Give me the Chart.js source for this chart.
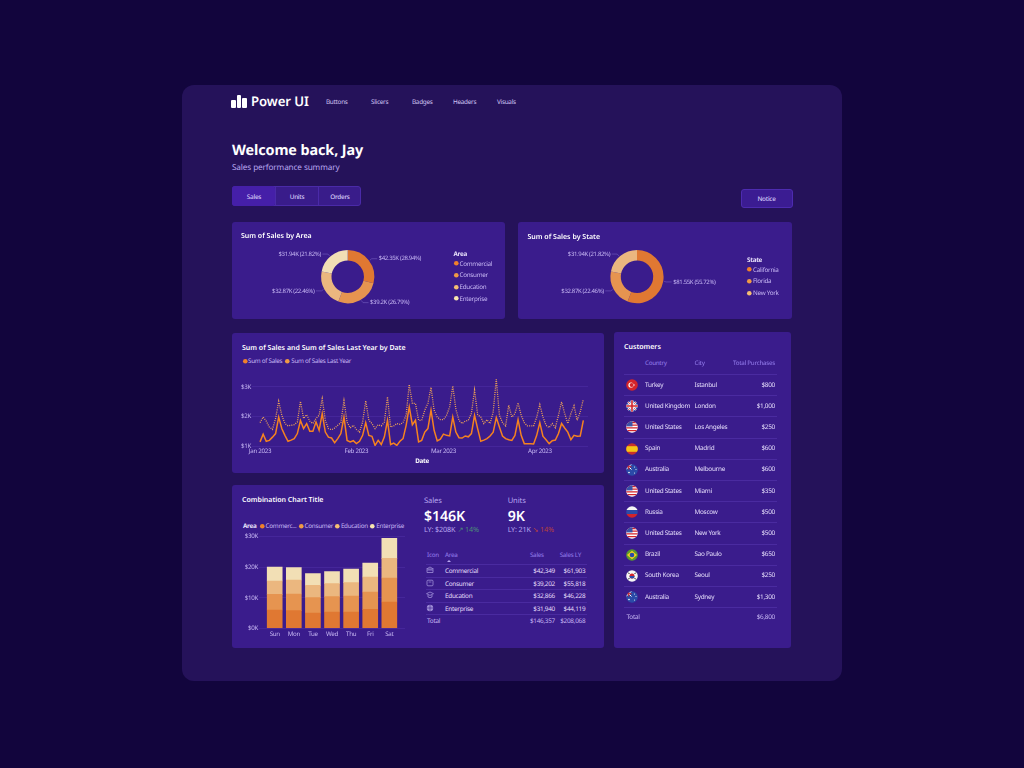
<!DOCTYPE html>
<html><head><meta charset="utf-8">
<script src="https://cdn.jsdelivr.net/npm/chart.js@4"></script>
<style>
html,body{margin:0;padding:0;width:1024px;height:768px;overflow:hidden;background:#12053d;font-family:"Noto Sans",sans-serif;text-rendering:geometricPrecision}
#root{position:absolute;left:0;top:0;width:1024px;height:768px;transform:translateZ(0)}
.box{position:absolute;box-sizing:border-box}
.t{position:absolute;white-space:nowrap;line-height:1;transform:translateY(-50%)}
.t.r{transform:translate(-100%,-50%)}
.t.c{transform:translate(-50%,-50%)}
canvas{position:absolute}
svg{position:absolute}
</style></head><body>
<div id="root"></div>
<script>
// ---------- data ----------
const areaNames=["Commercial","Consumer","Education","Enterprise"];
const areaValues=[42.35,39.2,32.87,31.94];
const areaLabels=["$42.35K (28.94%)","$39.2K (26.79%)","$32.87K (22.46%)","$31.94K (21.82%)"];
const stateNames=["California","Florida","New York"];
const stateValues=[81.55,32.87,31.94];
const stateLabels=["$81.55K (55.72%)","$32.87K (22.46%)","$31.94K (21.82%)"];
const salesLine=[1.14,1.40,1.16,1.19,1.30,1.42,1.98,1.59,1.36,1.16,1.20,1.25,1.42,1.86,1.59,1.76,1.50,1.50,1.81,1.53,2.10,1.47,1.30,1.27,1.11,1.25,1.42,1.98,1.19,1.14,1.18,1.08,1.16,1.36,1.79,1.36,1.33,1.02,1.19,1.05,1.31,1.87,1.05,1.10,1.02,1.16,1.25,1.70,2.32,1.72,1.87,1.14,1.19,1.47,1.59,2.21,1.53,1.17,1.23,1.40,1.36,1.34,1.98,1.47,1.28,1.27,1.34,1.31,1.42,2.04,1.59,1.16,1.20,1.25,1.34,1.47,1.96,1.64,1.34,1.25,1.21,1.19,1.36,1.89,1.36,1.08,1.08,1.08,1.07,1.36,1.79,1.33,1.21,1.08,1.18,1.20,1.42,1.76,1.61,1.47,1.21,1.36,1.33,1.34,1.87];
const salesLastYear=[1.79,1.98,1.84,1.64,1.56,1.93,2.51,2.04,1.76,1.68,1.70,1.72,1.81,2.51,1.93,2.06,1.84,1.76,1.93,2.04,2.60,1.87,1.59,1.55,1.61,1.70,1.79,2.53,1.81,1.61,1.70,1.56,1.47,1.81,2.53,1.87,1.76,1.59,1.72,1.68,1.81,2.66,1.64,1.68,1.76,1.73,1.79,2.04,3.08,2.44,2.44,1.87,1.87,2.21,2.44,2.98,2.21,1.98,1.89,1.89,2.04,2.32,3.03,2.24,1.87,1.76,1.84,1.87,2.10,2.89,2.06,1.98,1.76,1.89,1.76,2.15,3.26,2.04,1.79,1.68,2.38,1.98,2.10,2.46,2.04,1.79,1.68,1.68,1.68,1.98,2.40,1.98,1.70,1.62,1.76,1.62,2.04,2.49,2.10,1.76,2.10,2.36,1.87,2.15,2.58];
const monthTickDays=[0,31,59,90];
const monthTickLabels=["Jan 2023","Feb 2023","Mar 2023","Apr 2023"];
const weekDays=["Sun","Mon","Tue","Wed","Thu","Fri","Sat"];
const barCommercial=[6.0,5.78,5.02,5.35,5.35,6.22,8.62];
const barConsumer=[5.13,5.45,5.02,5.02,5.24,5.67,7.85];
const barEducation=[4.36,4.58,4.04,4.25,4.36,4.91,6.44];
const barEnterprise=[4.58,4.04,3.82,3.93,4.47,4.58,6.55];
const tableSales=["$42,349","$39,202","$32,866","$31,940"];
const tableSalesLY=["$61,903","$55,818","$46,228","$44,119"];
const custCountry=["Turkey","United Kingdom","United States","Spain","Australia","United States","Russia","United States","Brazil","South Korea","Australia"];
const custCity=["Istanbul","London","Los Angeles","Madrid","Melbourne","Miami","Moscow","New York","Sao Paulo","Seoul","Sydney"];
const custPurchases=["$800","$1,000","$250","$600","$600","$350","$500","$500","$650","$250","$1,300"];
const orange=["#E07832","#E69450","#EBB77F","#F2DFB5"];
const legendDots=["#F0802A","#F09A45","#F5BE72","#F8E6B0"];

// ---------- helpers ----------
const root=document.getElementById('root');
const C={bg:'#12053d',panel:'#25125a',card:'#3a1c8c',white:'#ffffff',row:'#e4dcfb',soft:'#c4b4f2',head:'#8a72e2',grid:'#4a2ba0'};
function box(x,y,w,h,bg,r,extra){const d=document.createElement('div');d.className='box';d.style.cssText=`left:${x}px;top:${y}px;width:${w}px;height:${h}px;background:${bg};border-radius:${r}px;${extra||''}`;root.appendChild(d);return d;}
function t(x,y,s,size,color,weight,align){const d=document.createElement('div');d.className='t'+(align?' '+align:'');d.textContent=s;const ls=size<7?-0.28:size<9?-0.12:-0.1;d.style.cssText=`left:${x}px;top:${y}px;font-size:${size}px;color:${color};font-weight:${weight||400};letter-spacing:${ls}px`;root.appendChild(d);return d;}
function canvas(x,y,w,h){const c=document.createElement('canvas');c.style.cssText=`left:0;top:0;width:${w}px;height:${h}px`;c.width=w;c.height=h;const wrap=document.createElement('div');wrap.style.cssText=`position:absolute;left:${x}px;top:${y}px;width:${w}px;height:${h}px`;wrap.appendChild(c);root.appendChild(wrap);return c;}
function dot(x,y,col,r){svg(x-r-1,y-r-1,2*r+2,2*r+2,`<circle cx="${r+1}" cy="${r+1}" r="${r}" fill="${col}"/>`);}
function line(x,y,w,col){box(x,y,w,1,col||C.grid,0);}
function svg(x,y,w,h,inner){const d=document.createElement('div');d.innerHTML=`<svg xmlns="http://www.w3.org/2000/svg" style="left:${x}px;top:${y}px" width="${w}" height="${h}" viewBox="0 0 ${w} ${h}">${inner}</svg>`;root.appendChild(d);}
Chart.register({id:'crispText',beforeDraw(ch){ch.ctx.textRendering='geometricPrecision';ch.ctx.letterSpacing='-0.3px';}});

// ---------- frame ----------
box(182,85,660,596,C.panel,12);
[[231.3,100,5,8],[237,95,4.4,13],[242,97.5,5,10.5]].forEach(b=>box(b[0],b[1],b[2],b[3],'#fff',1));
t(251,101.5,'Power UI',13.2,'#fff',600);
[["Buttons",326],["Slicers",371],["Badges",412],["Headers",453],["Visuals",497]].forEach(n=>t(n[1],101.5,n[0],6.4,'#cfc2f2',400));
t(232,150.5,'Welcome back, Jay',14.4,'#fff',700);
t(232,167.5,'Sales performance summary',8.2,'#b9a7f0',400);
box(232,186,129,20,'#391c8a',3,'border:1px solid #4a2aa8');
box(232,186,43,20,'#451fa8',3);
box(275,187,1,18,'#4a2aa8',0);box(318,187,1,18,'#4a2aa8',0);
t(254,197,'Sales',6.4,'#d5c9f7',500,'c');t(297,197,'Units',6.4,'#d5c9f7',500,'c');t(340,197,'Orders',6.4,'#d5c9f7',500,'c');
box(740.5,189,52,18.5,'#3b1c92',3,'border:1px solid #4d2bb0');
t(766.5,198.5,'Notice',6.4,'#d5c9f7',500,'c');
[[232,221.5,273,97.5],[517.5,221.5,274.5,97.5],[232,332.5,372,140.5],[614,332,177,316],[232,484.5,372,163.5]].forEach(c=>box(c[0],c[1],c[2],c[3],C.card,3));

// ---------- doughnuts ----------
const donutLabels={id:'donutLabels',afterDatasetsDraw(ch,a,o){
  const ctx=ch.ctx,meta=ch.getDatasetMeta(0);ctx.save();ctx.font='400 6px "Noto Sans"';ctx.letterSpacing='-0.35px';ctx.textBaseline='middle';
  meta.data.forEach((arc,i)=>{const m=(arc.startAngle+arc.endAngle)/2,R=arc.outerRadius;
    const px=arc.x+Math.cos(m)*R,py=arc.y+Math.sin(m)*R,side=Math.cos(m)>=0?1:-1,ty=arc.y+Math.sin(m)*R*1.1;
    ctx.strokeStyle='#6d55b8';ctx.lineWidth=.7;ctx.beginPath();ctx.moveTo(px+side*1,py);ctx.lineTo(px+side*3,ty);ctx.lineTo(px+side*8.5,ty);ctx.stroke();
    ctx.fillStyle='#c4b4f2';ctx.textAlign=side>0?'left':'right';ctx.fillText(o.labels[i],px+side*10,ty);});
  ctx.restore();}};
function donut(rect,cx,cy,r,labels,values,texts){
  const [x,y,w,h]=rect;
  return new Chart(canvas(x,y,w,h),{type:'doughnut',plugins:[donutLabels],data:{labels,datasets:[{data:values,backgroundColor:orange,borderColor:'#3a1c8c',borderWidth:0}]},
   options:{responsive:false,animation:false,cutout:'61%',layout:{padding:{left:cx-r-x,right:x+w-cx-r,top:cy-r-y,bottom:y+h-cy-r}},plugins:{legend:{display:false},tooltip:{enabled:false},donutLabels:{labels:texts}}}});
}
donut([232,222,273,97],347.7,276.7,26.6,areaNames,areaValues,areaLabels);
donut([518,222,274,97],637,276.7,26.6,stateNames,stateValues,stateLabels);
t(241,236.3,'Sum of Sales by Area',7,'#fff',600).style.letterSpacing='0';
t(527.5,236.5,'Sum of Sales by State',7,'#fff',600).style.letterSpacing='0';
t(453.5,254,'Area',6.3,'#e8e1fb',700);
[263.5,275,287,298.5].forEach((y,i)=>{dot(456,y,legendDots[i],2.3);t(459.5,y,areaNames[i],6.3,C.soft,400);});
t(747,259.5,'State',6.3,'#e8e1fb',700);
[269.5,281,293].forEach((y,i)=>{dot(749.5,y,legendDots[i],2.3);t(753,y,stateNames[i],6.3,C.soft,400);});

// ---------- line chart ----------
t(242,347.5,'Sum of Sales and Sum of Sales Last Year by Date',7,'#fff',600).style.letterSpacing='0';
dot(245,361,legendDots[0],2.3);t(248,361,'Sum of Sales',6.3,C.soft,400);
dot(287.5,361,legendDots[1],2.3);t(291.3,361,'Sum of Sales Last Year',6.3,C.soft,400);
const tickFont={family:'"Noto Sans"',size:6.2,weight:'400'};
new Chart(canvas(232,333,372,140),{type:'line',data:{datasets:[
 {label:'Sum of Sales',data:salesLine.map((v,i)=>({x:i,y:v})),borderColor:'#F58220',borderWidth:1.5,pointRadius:0,tension:0},
 {label:'Sum of Sales Last Year',data:salesLastYear.map((v,i)=>({x:i,y:v})),borderColor:'#F0A455',borderWidth:1.3,borderDash:[1,1.2],pointRadius:0,tension:0}]},
 options:{responsive:false,animation:false,layout:{padding:{left:0,right:16,top:45,bottom:0}},plugins:{legend:{display:false},tooltip:{enabled:false}},
 scales:{
  x:{type:'linear',min:-1.3,max:105.5,afterBuildTicks(s){s.ticks=monthTickDays.map(v=>({value:v}));},afterFit(s){s.height=27;},
     grid:{display:false,drawTicks:false},border:{display:false},title:{display:true,text:'Date',color:'#fff',font:{family:'"Noto Sans"',size:6.3,weight:'700'},padding:{top:0,bottom:8}},
     ticks:{autoSkip:false,maxRotation:0,padding:2,color:C.soft,font:tickFont,callback:v=>monthTickLabels[monthTickDays.indexOf(v)]}},
  y:{min:1,max:3.3,afterBuildTicks(s){s.ticks=[1,2,3].map(v=>({value:v}));},afterFit(s){s.width=24;},
     grid:{color:C.grid,lineWidth:.7,tickLength:4},border:{display:false},
     ticks:{padding:1,color:C.soft,font:tickFont,callback:v=>'$'+v+'K'}}}}});

// ---------- stacked bars ----------
t(242,499.5,'Combination Chart Title',7,'#fff',600).style.letterSpacing='0';
t(243,526,'Area',6.3,'#e8e1fb',700);
[[262,'Commerc...'],[301,'Consumer'],[337.3,'Education'],[372.7,'Enterprise']].forEach((l,i)=>{dot(l[0],526,legendDots[i],2.3);t(l[0]+3.6,526,l[1],6.3,C.soft,400);});
const barSeries=[barCommercial,barConsumer,barEducation,barEnterprise];
new Chart(canvas(232,485,180,163),{type:'bar',data:{datasets:barSeries.map((s,k)=>({label:areaNames[k],data:s.map((v,i)=>({x:i,y:v})),backgroundColor:orange[k],barThickness:15}))},
 options:{responsive:false,animation:false,layout:{padding:{left:0,right:7,top:51.7,bottom:0}},plugins:{legend:{display:false},tooltip:{enabled:false}},
 scales:{
  x:{type:'linear',offset:false,stacked:true,min:-0.665,max:6.82,afterBuildTicks(s){s.ticks=weekDays.map((_,i)=>({value:i}));},afterFit(s){s.height=19.7;},
     grid:{display:false,drawTicks:false},border:{display:false},ticks:{autoSkip:false,maxRotation:0,padding:2.5,color:C.soft,font:tickFont,callback:v=>weekDays[v]}},
  y:{stacked:true,min:0,max:30,afterBuildTicks(s){s.ticks=[0,10,20,30].map(v=>({value:v}));},afterFit(s){s.width=30;},
     grid:{color:C.grid,lineWidth:.7,tickLength:3},border:{display:false},ticks:{padding:1,color:C.soft,font:tickFont,callback:v=>'$'+v+'K'}}}}});

// ---------- KPIs + table ----------
t(424,501.5,'Sales',7.6,'#b9a7f0',400);t(507.7,501.5,'Units',7.6,'#b9a7f0',400);
t(424,517,'$146K',14.2,'#fff',600);t(507.7,517,'9K',14.2,'#fff',600);
t(424,531,'LY: $208K',7.2,'#b9a7f0',400);t(457.5,531,'↗',7.2,'#4c8f78',400);t(465,531,'14%',7.2,'#4c8f78',400);
t(507.7,531,'LY: 21K',7.2,'#b9a7f0',400);t(532.5,531,'↘',7.2,'#b8403c',400);t(540,531,'14%',7.2,'#b8403c',400);
t(427,555,'Icon',6.2,C.head,500);t(445,555,'Area',6.2,C.head,500);t(530,555,'Sales',6.2,C.head,500);t(559.7,555,'Sales LY',6.2,C.head,500);
svg(445,559.5,8,3,'<path d="M4 0 L6 2 L2 2 Z" fill="#b9a7f0"/>');
[564,576.5,589,601.5,614].forEach(y=>line(426,y,161));
const icons=[
 '<path d="M0.5 3 L4 1 L7.5 3 Z M1 4h6v2.5H1z" fill="none" stroke="#a08fd8" stroke-width=".8"/>',
 '<rect x="1" y="1.2" width="6" height="5.6" rx="1" fill="none" stroke="#a08fd8" stroke-width=".8"/><path d="M2.6 3h2.8" stroke="#a08fd8" stroke-width=".7"/>',
 '<path d="M.5 2.7 L4 1 L7.5 2.7 L4 4.4 Z M2 4v2q2 1.4 4 0V4" fill="none" stroke="#a08fd8" stroke-width=".8"/>',
 '<circle cx="4" cy="4" r="3.2" fill="#a08fd8"/><path d="M.8 4h6.4M4 .8v6.4" stroke="#3a1c8c" stroke-width=".6"/>'];
[571,583.5,596,608.5].forEach((y,i)=>{svg(426,y-5,8,8,icons[i]);t(445,y,areaNames[i],6.4,C.row,400);t(555,y,tableSales[i],6.4,C.row,400,'r');t(585.3,y,tableSalesLY[i],6.4,C.row,400,'r');});
t(427,621,'Total',6.4,C.soft,400);t(555,621,'$146,357',6.4,C.soft,400,'r');t(585.3,621,'$208,068',6.4,C.soft,400,'r');

// ---------- customers ----------
const flagArt={
 "Turkey":'<rect width="12" height="12" fill="#d3242a"/><circle cx="5" cy="6" r="2.6" fill="#fff"/><circle cx="5.7" cy="6" r="2.1" fill="#d3242a"/><circle cx="8" cy="6" r=".7" fill="#fff"/>',
 "United Kingdom":'<rect width="12" height="12" fill="#2b4aa8"/><path d="M0 0L12 12M12 0L0 12" stroke="#fff" stroke-width="2"/><path d="M0 0L12 12M12 0L0 12" stroke="#d3242a" stroke-width=".7"/><path d="M6 0V12M0 6H12" stroke="#fff" stroke-width="3"/><path d="M6 0V12M0 6H12" stroke="#d3242a" stroke-width="1.6"/>',
 "United States":'<rect width="12" height="12" fill="#fff"/><path d="M0 1.5H12M0 4.2H12M0 6.9H12M0 9.6H12" stroke="#d3242a" stroke-width="1.3"/><rect width="6.5" height="5.4" fill="#3a53a8"/>',
 "Spain":'<rect width="12" height="12" fill="#c8322c"/><rect y="3.2" width="12" height="5.6" fill="#f5c518"/>',
 "Australia":'<rect width="12" height="12" fill="#2b4aa8"/><path d="M0 0L5.5 5.5M5.5 0L0 5.5" stroke="#fff" stroke-width="1"/><path d="M2.75 0V5.5M0 2.75H5.5" stroke="#d3242a" stroke-width="1"/><circle cx="3" cy="8.5" r=".8" fill="#fff"/><circle cx="8.5" cy="3" r=".5" fill="#fff"/><circle cx="10" cy="5.5" r=".5" fill="#fff"/><circle cx="8.5" cy="9" r=".5" fill="#fff"/>',
 "Russia":'<rect width="12" height="4" fill="#f4f4f4"/><rect y="4" width="12" height="4" fill="#2b4aa8"/><rect y="8" width="12" height="4" fill="#d3242a"/>',
 "Brazil":'<rect width="12" height="12" fill="#5b9a2e"/><path d="M6 1.8L11 6L6 10.2L1 6Z" fill="#f5d020"/><circle cx="6" cy="6" r="2.3" fill="#2b4aa8"/>',
 "South Korea":'<rect width="12" height="12" fill="#f6f6f6"/><circle cx="6" cy="6" r="2.5" fill="#d3242a"/><path d="M3.5 6a2.5 2.5 0 0 0 5 0z" fill="#2b4aa8"/><path d="M2 2.5L3.5 4M10 2.5L8.5 4M2 9.5L3.5 8M10 9.5L8.5 8" stroke="#222" stroke-width="1"/>'};
t(624,347,'Customers',7,'#fff',600).style.letterSpacing='0';
t(645,363,'Country',6.2,C.head,500);t(694.5,363,'City',6.2,C.head,500);t(775,363,'Total Purchases',6.2,C.head,500,'r');
const rowStep=21.2;
custCountry.forEach((c,i)=>{const y=384.5+i*rowStep;
 line(624,Math.round(y-10.6),153);
 svg(626.3,y-5.5,12,12,`<defs><clipPath id="f${i}"><circle cx="6" cy="6" r="5.8"/></clipPath></defs><g clip-path="url(#f${i})">${flagArt[c]}</g>`);
 t(645,y,c,6.4,C.row,400);t(694.5,y,custCity[i],6.4,C.row,400);t(775,y,custPurchases[i],6.4,C.row,400,'r');});
line(624,607,153);
t(626.5,617,'Total',6.4,C.soft,400);t(775,617,'$6,800',6.4,C.soft,400,'r');
</script>
</body></html>
